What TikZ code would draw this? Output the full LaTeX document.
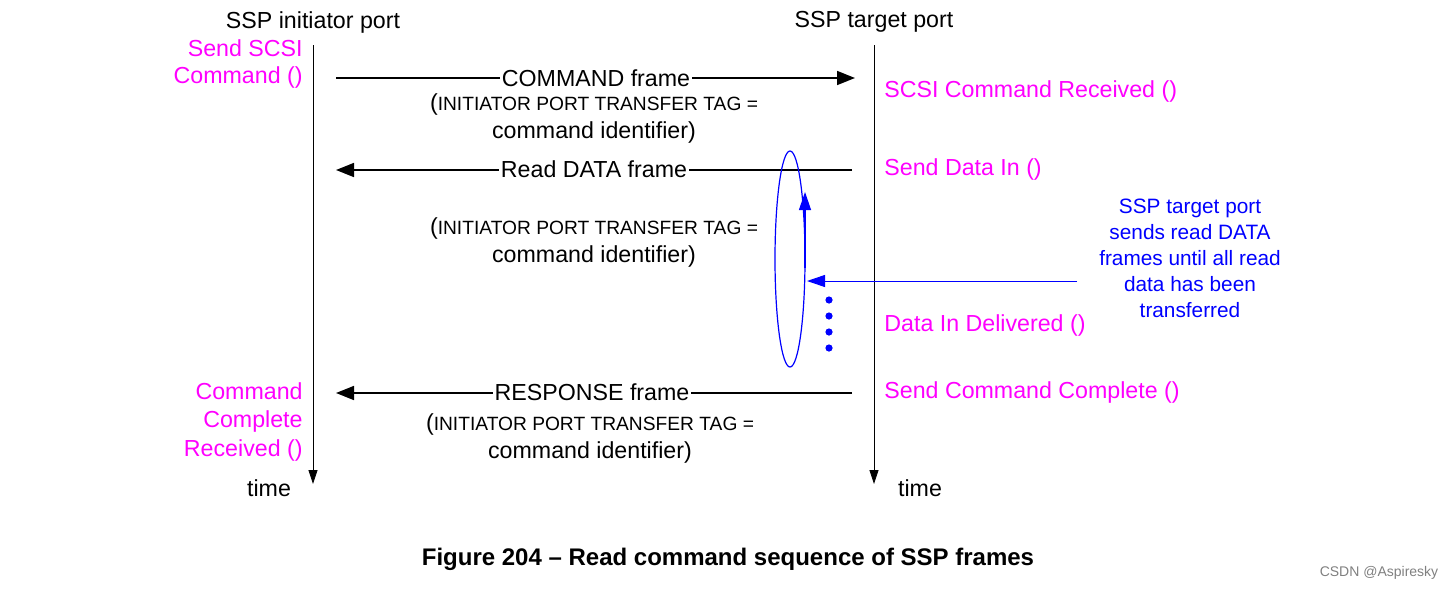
\documentclass[tikz,border=0pt]{standalone}
\usepackage{fontspec}
\setmainfont{Liberation Sans}
\usetikzlibrary{arrows.meta,shapes.geometric}
\definecolor{mag}{RGB}{255,0,255}
\definecolor{blu}{RGB}{0,0,255}
\begin{document}
\begin{tikzpicture}[x=0.5pt,y=-0.5pt,
  txt/.style={inner sep=0pt,font=\fontsize{11.6}{13}\selectfont},
  mg/.style={txt,text=mag},
  bl/.style={txt,text=blu,align=center,font=\fontsize{10.4}{13}\selectfont},
  lbl/.style={txt,fill=white,inner xsep=1pt},
  tag/.style={txt},
  msg/.style={-{Triangle[length=9pt,width=7pt]},line width=0.8pt},
  tl/.style={-{Triangle[length=7pt,width=4.5pt]},line width=0.4pt}]
\useasboundingbox (0,0) rectangle (1446,590);
\newcommand{\tagtxt}{(\fontsize{9.6}{11}\selectfont INITIATOR PORT TRANSFER TAG =}
% timelines
\coordinate (lt) at (313,45); \coordinate (lb) at (313,484);
\coordinate (rt) at (874,45); \coordinate (rb) at (874,484);
\draw[tl] (lt) -- (lb);
\draw[tl] (rt) -- (rb);
\node[txt] (hi) at (313,22) {SSP initiator port};
\node[txt] (ht) at (874,22) {SSP target port};
\node[txt] (t1) at (269,488) {time};
\node[txt] (t2) at (920,488) {time};
% command
\node[mg,anchor=east] (s1) at (303,48) {Send SCSI};
\node[mg,anchor=east] (s2) at (303,77) {Command ()};
\coordinate (c1) at (336,78); \coordinate (c2) at (855,78);
\draw[msg] (c1) -- (c2);
\node[lbl] (cl) at (596,78) {COMMAND frame};
\node[tag] (ct1) at (594,104) {\tagtxt};
\node[tag] (ct2) at (594,132) {command identifier)};
\node[mg,anchor=west] (r1) at (884,91) {SCSI Command Received ()};
% read data
\coordinate (d1) at (852,170); \coordinate (d2) at (336,170);
\draw[msg] (d1) -- (d2);
\node[lbl] (dl) at (594,169) {Read DATA frame};
\node[mg,anchor=west] (r2) at (884,169) {Send Data In ()};
\node[tag] (dt1) at (594,228) {\tagtxt};
\node[tag] (dt2) at (594,256) {command identifier)};
\node[draw=blu,ellipse,minimum width=15pt,minimum height=108pt,inner sep=0pt,line width=0.6pt] (el) at (790,259) {};
\coordinate (u1) at (805,268); \coordinate (u2) at (805,192);
\draw[blu,-{Triangle[length=9pt,width=6pt]},line width=0.6pt] (u1) -- (u2);
\coordinate (h1) at (1077,281); \coordinate (h2) at (807,281);
\draw[blu,-{Triangle[length=9pt,width=6pt]},line width=0.5pt] (h1) -- (h2);
\foreach \y in {300,316,332,348} \fill[blu] (829,\y) circle (1.8pt);
\node[mg,anchor=west] (r3) at (884,325) {Data In Delivered ()};
\node[bl] (note) at (1190,258) {SSP target port\\sends read DATA\\frames until all read\\data has been\\transferred};
% response
\coordinate (p1) at (852,393); \coordinate (p2) at (336,393);
\draw[msg] (p1) -- (p2);
\node[lbl] (pl) at (592,392) {RESPONSE frame};
\node[tag] (pt1) at (590,424) {\tagtxt};
\node[tag] (pt2) at (590,452) {command identifier)};
\node[mg,anchor=west] (r4) at (884,392) {Send Command Complete ()};
\node[mg,anchor=east] (q1) at (303,391) {Command};
\node[mg,anchor=east] (q2) at (303,421) {Complete};
\node[mg,anchor=east] (q3) at (303,450) {Received ()};
% caption
\node[txt,font=\bfseries\fontsize{12}{14}\selectfont] (cap) at (728,559) {Figure 204 – Read command sequence of SSP frames};
\node[txt,text=gray,font=\fontsize{7}{8}\selectfont] (wm) at (1379,573) {CSDN @Aspiresky};
\end{tikzpicture}
\end{document}
